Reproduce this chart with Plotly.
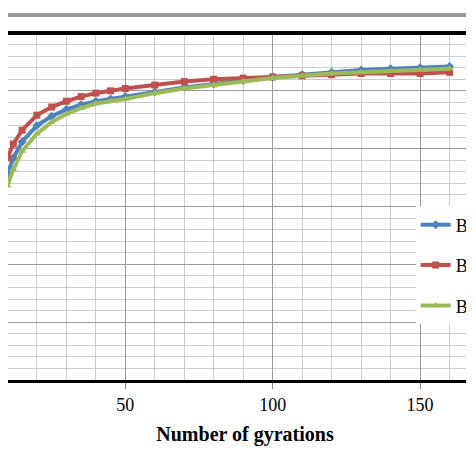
import plotly.graph_objects as go

gyrations = [10, 12, 15, 20, 25, 30, 35, 40, 45, 50, 60, 70, 80, 90, 100, 110, 120, 130, 140, 150, 160]
blue = [17.8, 19.2, 20.6, 22.0, 22.8, 23.4, 23.8, 24.1, 24.3, 24.5, 24.9, 25.3, 25.6, 25.9, 26.2, 26.4, 26.6, 26.8, 26.9, 27.0, 27.1]
red = [19.2, 20.4, 21.6, 22.9, 23.6, 24.1, 24.5, 24.8, 25.0, 25.2, 25.5, 25.8, 26.0, 26.1, 26.2, 26.3, 26.4, 26.5, 26.5, 26.5, 26.6]
green = [16.8, 18.2, 19.8, 21.3, 22.3, 23.0, 23.5, 23.9, 24.1, 24.3, 24.8, 25.2, 25.5, 25.8, 26.1, 26.3, 26.5, 26.6, 26.7, 26.8, 26.9]
names = ["Bl", "Bl", "Bl"]

fig = go.Figure()
styles = [("#4f81bd", "diamond", blue), ("#c0504d", "square", red), ("#9bbb59", "triangle-up", green)]
for i, (color, sym, ys) in enumerate(styles):
    fig.add_trace(go.Scatter(x=gyrations, y=ys, name=names[i], mode="lines+markers",
                             line=dict(color=color, width=4), marker=dict(symbol=sym, size=7, color=color),
                             legendgroup=str(i)))

fig.update_layout(
    width=474, height=474, plot_bgcolor="white", paper_bgcolor="white",
    margin=dict(l=0, r=0, t=25, b=102, autoexpand=False),
    font=dict(family="Liberation Serif", color="black", size=18),
    legend=dict(x=0.86, y=0.33, xanchor="left", yanchor="middle", bgcolor="white",
                tracegroupgap=14, font=dict(size=18), itemwidth=30),
    shapes=[dict(type="line", xref="paper", yref="paper", x0=0, x1=1, y0=1, y1=1,
                 line=dict(color="black", width=4)),
            dict(type="line", xref="paper", yref="paper", x0=0, x1=1, y0=1.052, y1=1.052,
                 line=dict(color="#999999", width=4)),
            dict(type="line", xref="paper", yref="paper", x0=0, x1=1, y0=-0.285, y1=-0.285,
                 line=dict(color="#999999", width=4))],
)
fig.update_xaxes(range=[10.2, 171], tickvals=[50, 100, 150], showline=True, linecolor="black", linewidth=3,
                 ticks="outside", ticklen=6, tickcolor="gray",
                 showgrid=True, gridcolor="#999999", gridwidth=1,
                 minor=dict(dtick=10, tick0=0, showgrid=True, gridcolor="#cccccc"),
                 title=dict(text="<b>Number of gyrations</b>", font=dict(size=20), standoff=14))
fig.update_yaxes(range=[0, 30], dtick=5, showticklabels=False, showgrid=True, gridcolor="#999999",
                 minor=dict(dtick=1, showgrid=True, gridcolor="#cccccc"), zeroline=False)
fig.write_html("out.html")
